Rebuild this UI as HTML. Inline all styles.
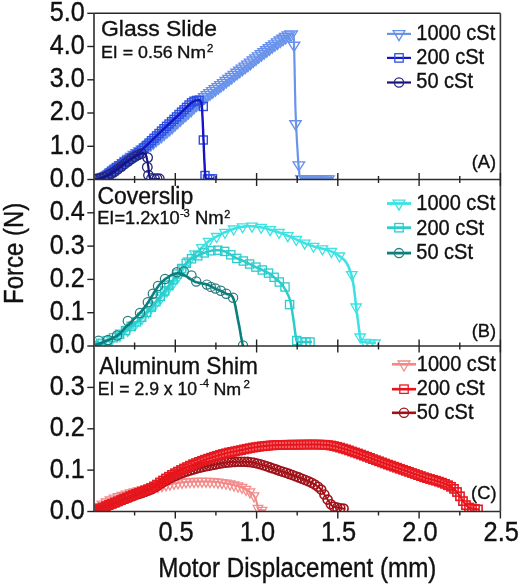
<!DOCTYPE html>
<html><head><meta charset="utf-8"><title>Force vs Motor Displacement</title>
<style>html,body{margin:0;padding:0;background:#fff;}body{width:520px;height:584px;overflow:hidden;}svg{display:block;}</style>
</head><body>
<svg width="520" height="584" viewBox="0 0 520 584">
<defs><clipPath id="cA"><rect x="94" y="13.3" width="406.4" height="166.2"/></clipPath><clipPath id="cB"><rect x="94" y="179.5" width="406.4" height="166.5"/></clipPath><clipPath id="cC"><rect x="94" y="346" width="406.4" height="165.5"/></clipPath></defs>
<rect width="520" height="584" fill="#fff"/>
<g id="curves"><g clip-path="url(#cA)"><g fill="none" stroke="#6690ec" stroke-width="1.35" stroke-linejoin="miter"><path d="M87.8 176.0H100.2L94.0 186.5Z"/><path d="M90.5 175.6H103.0L96.7 186.1Z"/><path d="M93.2 175.1H105.7L99.4 185.6Z"/><path d="M95.8 174.5H108.3L102.1 185.0Z"/><path d="M98.5 173.5H111.0L104.8 184.0Z"/><path d="M101.2 172.2H113.8L107.5 182.7Z"/><path d="M104.0 170.5H116.5L110.2 181.0Z"/><path d="M106.7 168.6H119.2L112.9 179.1Z"/><path d="M109.4 166.4H121.9L115.6 176.9Z"/><path d="M112.0 164.1H124.5L118.3 174.6Z"/><path d="M114.8 161.8H127.2L121.0 172.3Z"/><path d="M117.5 159.6H129.9L123.7 170.1Z"/><path d="M120.2 157.5H132.7L126.4 168.0Z"/><path d="M122.8 155.4H135.3L129.1 165.9Z"/><path d="M125.6 153.3H138.1L131.8 163.8Z"/><path d="M128.2 151.5H140.8L134.5 162.0Z"/><path d="M130.9 149.7H143.4L137.2 160.2Z"/><path d="M133.7 147.9H146.2L139.9 158.4Z"/><path d="M136.3 146.1H148.8L142.6 156.6Z"/><path d="M139.1 144.3H151.6L145.3 154.8Z"/><path d="M141.8 142.5H154.2L148.0 153.0Z"/><path d="M144.5 140.6H157.0L150.7 151.1Z"/><path d="M147.2 138.6H159.7L153.4 149.1Z"/><path d="M149.8 136.5H162.3L156.1 147.0Z"/><path d="M152.6 134.3H165.1L158.8 144.8Z"/><path d="M155.2 132.1H167.8L161.5 142.6Z"/><path d="M158.0 129.9H170.5L164.2 140.4Z"/><path d="M160.7 127.7H173.2L166.9 138.2Z"/><path d="M163.3 125.4H175.8L169.6 135.9Z"/><path d="M166.1 123.1H178.6L172.3 133.6Z"/><path d="M168.8 120.6H181.2L175.0 131.1Z"/><path d="M171.5 118.1H184.0L177.7 128.6Z"/><path d="M174.2 115.6H186.7L180.4 126.1Z"/><path d="M176.8 113.3H189.3L183.1 123.8Z"/><path d="M179.6 110.9H192.1L185.8 121.4Z"/><path d="M182.2 108.5H194.8L188.5 119.0Z"/><path d="M185.0 106.1H197.5L191.2 116.6Z"/><path d="M187.7 103.5H200.2L193.9 114.0Z"/><path d="M190.3 100.9H202.8L196.6 111.4Z"/><path d="M193.1 98.4H205.6L199.3 108.9Z"/><path d="M195.8 96.0H208.2L202.0 106.5Z"/><path d="M198.5 93.7H211.0L204.7 104.2Z"/><path d="M201.2 91.6H213.7L207.4 102.1Z"/><path d="M203.8 89.6H216.3L210.1 100.1Z"/><path d="M206.6 87.6H219.1L212.8 98.1Z"/><path d="M209.2 85.6H221.8L215.5 96.1Z"/><path d="M212.0 83.6H224.5L218.2 94.1Z"/><path d="M214.7 81.6H227.2L220.9 92.1Z"/><path d="M217.4 79.6H229.9L223.6 90.1Z"/><path d="M220.1 77.5H232.6L226.3 88.0Z"/><path d="M222.8 75.4H235.2L229.0 85.9Z"/><path d="M225.5 73.4H238.0L231.7 83.9Z"/><path d="M228.2 71.3H240.7L234.4 81.8Z"/><path d="M230.9 69.2H243.4L237.1 79.7Z"/><path d="M233.6 67.2H246.1L239.8 77.7Z"/><path d="M236.2 65.1H248.8L242.5 75.6Z"/><path d="M239.0 63.1H251.5L245.2 73.6Z"/><path d="M241.7 61.1H254.2L247.9 71.6Z"/><path d="M244.4 59.1H256.9L250.6 69.6Z"/><path d="M247.1 57.0H259.6L253.3 67.5Z"/><path d="M249.8 54.9H262.2L256.0 65.4Z"/><path d="M252.4 52.8H264.9L258.7 63.3Z"/><path d="M255.2 50.7H267.7L261.4 61.2Z"/><path d="M257.9 48.7H270.4L264.1 59.2Z"/><path d="M260.6 46.7H273.1L266.8 57.2Z"/><path d="M263.2 44.7H275.8L269.5 55.2Z"/><path d="M265.9 42.7H278.4L272.2 53.2Z"/><path d="M268.7 40.8H281.2L274.9 51.3Z"/><path d="M271.4 38.9H283.9L277.6 49.4Z"/><path d="M274.1 37.0H286.6L280.3 47.5Z"/><path d="M276.8 35.2H289.2L283.0 45.7Z"/><path d="M279.4 33.4H291.9L285.7 43.9Z"/><path d="M282.2 31.8H294.7L288.4 42.3Z"/><path d="M284.9 30.8H297.4L291.1 41.3Z"/><path d="M288.2 42.2H299.8L294.0 51.4Z"/><path d="M289.8 120.7H301.2L295.5 129.9Z"/><path d="M293.1 161.8H304.6L298.8 171.0Z"/><path d="M295.8 175.7H307.2L301.5 184.9Z"/><path d="M299.2 175.9H310.8L305.0 185.1Z"/><path d="M302.8 175.9H314.2L308.5 185.1Z"/><path d="M306.2 175.9H317.8L312.0 185.1Z"/><path d="M309.8 175.9H321.2L315.5 185.1Z"/><path d="M313.2 175.9H324.8L319.0 185.1Z"/><path d="M316.8 175.9H328.2L322.5 185.1Z"/><path d="M320.2 175.9H331.8L326.0 185.1Z"/><path d="M322.8 175.9H334.2L328.5 185.1Z"/></g><polyline points="94.0,179.5 94.4,179.4 94.8,179.4 95.4,179.3 96.0,179.2 96.6,179.1 97.3,179.0 98.0,178.9 98.7,178.8 99.4,178.6 100.0,178.5 100.6,178.4 101.2,178.2 101.8,178.1 102.4,177.9 102.9,177.7 103.5,177.5 104.1,177.3 104.7,177.1 105.4,176.8 106.0,176.5 106.7,176.2 107.3,175.8 108.0,175.4 108.6,175.0 109.3,174.6 110.0,174.1 110.7,173.6 111.5,173.1 112.2,172.6 113.0,172.0 113.8,171.4 114.7,170.7 115.5,170.0 116.4,169.2 117.3,168.5 118.2,167.7 119.2,166.9 120.1,166.1 121.1,165.3 122.0,164.5 123.0,163.7 123.9,162.9 124.9,162.1 125.9,161.3 126.9,160.6 128.0,159.8 129.0,159.0 130.0,158.2 131.0,157.4 132.0,156.7 133.0,156.0 134.0,155.3 135.0,154.6 136.0,153.9 137.0,153.3 138.0,152.6 139.0,152.0 140.0,151.3 141.0,150.7 142.0,150.0 143.0,149.3 144.0,148.7 145.0,148.0 146.0,147.3 147.1,146.6 148.1,146.0 149.1,145.3 150.1,144.6 151.0,143.9 152.0,143.2 152.9,142.5 153.8,141.8 154.7,141.1 155.6,140.4 156.5,139.7 157.4,139.0 158.3,138.3 159.2,137.5 160.1,136.8 161.0,136.0 162.0,135.2 163.0,134.4 164.0,133.6 165.0,132.8 166.0,131.9 167.0,131.1 168.0,130.2 169.0,129.4 170.0,128.5 171.0,127.7 171.9,126.9 172.8,126.1 173.7,125.3 174.6,124.4 175.5,123.6 176.4,122.8 177.3,122.0 178.2,121.2 179.1,120.3 180.0,119.5 181.0,118.6 182.0,117.7 183.0,116.8 184.1,115.9 185.1,115.0 186.2,114.1 187.2,113.2 188.2,112.3 189.1,111.5 190.0,110.7 190.8,109.9 191.6,109.2 192.3,108.5 193.0,107.9 193.6,107.2 194.3,106.6 194.9,106.0 195.6,105.3 196.3,104.7 197.0,104.0 197.8,103.3 198.5,102.6 199.3,101.9 200.0,101.2 200.8,100.5 201.6,99.9 202.4,99.1 203.3,98.4 204.1,97.7 205.0,97.0 205.9,96.3 206.9,95.5 207.9,94.8 208.9,94.0 209.9,93.3 210.9,92.5 211.9,91.8 213.0,91.0 214.0,90.3 215.0,89.5 216.0,88.8 216.9,88.1 217.8,87.4 218.8,86.7 219.7,86.0 220.6,85.3 221.6,84.5 222.7,83.8 223.8,82.9 225.0,82.0 226.3,81.0 227.7,79.9 229.2,78.8 230.8,77.6 232.4,76.3 234.0,75.1 235.6,73.9 237.1,72.7 238.6,71.6 240.0,70.5 241.3,69.5 242.6,68.6 243.8,67.6 245.0,66.8 246.1,65.9 247.3,65.1 248.4,64.2 249.6,63.3 250.8,62.4 252.0,61.5 253.3,60.5 254.6,59.5 255.9,58.5 257.2,57.5 258.6,56.4 259.9,55.4 261.2,54.4 262.5,53.4 263.8,52.4 265.0,51.5 266.2,50.6 267.4,49.7 268.5,48.9 269.7,48.0 270.8,47.2 271.9,46.4 273.0,45.7 274.0,44.9 275.0,44.2 276.0,43.5 276.9,42.8 277.8,42.2 278.7,41.6 279.6,41.0 280.4,40.4 281.2,39.9 281.9,39.4 282.6,38.9 283.3,38.4 284.0,38.0 284.6,37.6 285.2,37.2 285.8,36.9 286.3,36.5 286.8,36.2 287.3,35.9 287.7,35.7 288.1,35.4 288.6,35.2 289.0,35.0 289.4,34.8 289.8,34.5 290.2,34.2 290.6,33.9 291.0,33.7 291.3,33.5 291.6,33.4 292.0,33.5 292.2,33.6 292.5,34.0 292.7,34.3 292.9,34.4 293.1,34.4 293.2,34.5 293.4,34.8 293.5,35.4 293.6,36.5 293.7,38.2 293.9,40.7 294.0,44.0 294.1,48.4 294.3,54.0 294.4,60.5 294.6,67.6 294.7,75.1 294.9,82.8 295.0,90.3 295.2,97.6 295.3,104.2 295.5,110.0 295.7,115.1 295.9,120.0 296.1,124.5 296.3,128.8 296.5,132.9 296.7,136.7 296.9,140.3 297.1,143.7 297.3,146.9 297.5,150.0 297.7,152.9 297.8,155.5 298.0,157.9 298.1,160.0 298.2,162.0 298.4,163.9 298.5,165.5 298.7,167.1 298.8,168.6 299.0,170.0 299.1,171.3 299.3,172.4 299.3,173.4 299.4,174.2 299.5,175.0 299.7,175.6 299.9,176.2 300.1,176.6 300.5,177.1 301.0,177.5 301.6,177.8 302.1,178.1 302.7,178.2 303.4,178.2 304.2,178.2 305.1,178.2 306.1,178.1 307.2,178.0 308.5,178.0 310.0,178.0 311.8,178.0 314.1,178.0 316.6,178.0 319.3,178.0 322.1,178.0 324.8,178.0 327.3,178.0 329.6,178.0 331.6,178.0 333.0,178.0" fill="none" stroke="#6a93ea" stroke-width="2.2" stroke-linejoin="round"/></g><g clip-path="url(#cA)"><g fill="none" stroke="#2d50e2" stroke-width="1.4" stroke-linejoin="miter"><rect x="90.0" y="175.5" width="8.0" height="8.0"/><rect x="92.5" y="175.1" width="8.0" height="8.0"/><rect x="95.0" y="174.6" width="8.0" height="8.0"/><rect x="97.5" y="173.9" width="8.0" height="8.0"/><rect x="100.0" y="172.9" width="8.0" height="8.0"/><rect x="102.5" y="171.2" width="8.0" height="8.0"/><rect x="105.0" y="169.1" width="8.0" height="8.0"/><rect x="107.5" y="167.1" width="8.0" height="8.0"/><rect x="110.0" y="165.2" width="8.0" height="8.0"/><rect x="112.5" y="163.4" width="8.0" height="8.0"/><rect x="115.0" y="161.7" width="8.0" height="8.0"/><rect x="117.5" y="160.1" width="8.0" height="8.0"/><rect x="120.0" y="158.4" width="8.0" height="8.0"/><rect x="122.5" y="156.8" width="8.0" height="8.0"/><rect x="125.0" y="155.2" width="8.0" height="8.0"/><rect x="127.5" y="153.7" width="8.0" height="8.0"/><rect x="130.0" y="152.1" width="8.0" height="8.0"/><rect x="132.5" y="150.4" width="8.0" height="8.0"/><rect x="135.0" y="148.4" width="8.0" height="8.0"/><rect x="137.5" y="146.2" width="8.0" height="8.0"/><rect x="140.0" y="143.8" width="8.0" height="8.0"/><rect x="142.5" y="141.5" width="8.0" height="8.0"/><rect x="145.0" y="139.1" width="8.0" height="8.0"/><rect x="147.5" y="136.7" width="8.0" height="8.0"/><rect x="150.0" y="134.3" width="8.0" height="8.0"/><rect x="152.5" y="131.9" width="8.0" height="8.0"/><rect x="155.0" y="129.5" width="8.0" height="8.0"/><rect x="157.5" y="127.1" width="8.0" height="8.0"/><rect x="160.0" y="124.7" width="8.0" height="8.0"/><rect x="162.5" y="122.3" width="8.0" height="8.0"/><rect x="165.0" y="120.0" width="8.0" height="8.0"/><rect x="167.5" y="117.6" width="8.0" height="8.0"/><rect x="170.0" y="115.3" width="8.0" height="8.0"/><rect x="172.5" y="112.9" width="8.0" height="8.0"/><rect x="175.0" y="110.5" width="8.0" height="8.0"/><rect x="177.5" y="108.1" width="8.0" height="8.0"/><rect x="180.0" y="105.8" width="8.0" height="8.0"/><rect x="182.5" y="103.4" width="8.0" height="8.0"/><rect x="185.0" y="101.0" width="8.0" height="8.0"/><rect x="187.5" y="98.8" width="8.0" height="8.0"/><rect x="190.0" y="97.2" width="8.0" height="8.0"/><rect x="192.5" y="96.4" width="8.0" height="8.0"/><rect x="195.0" y="96.5" width="8.0" height="8.0"/><rect x="199.3" y="102.5" width="8.0" height="8.0"/><rect x="199.3" y="136.0" width="8.0" height="8.0"/><rect x="201.0" y="171.5" width="8.0" height="8.0"/><rect x="203.5" y="174.8" width="8.0" height="8.0"/><rect x="206.0" y="174.8" width="8.0" height="8.0"/><rect x="208.5" y="174.8" width="8.0" height="8.0"/></g><polyline points="94.0,179.5 94.4,179.4 94.8,179.3 95.4,179.3 96.0,179.1 96.7,179.0 97.4,178.9 98.1,178.8 98.8,178.6 99.4,178.5 100.0,178.3 100.5,178.1 101.0,178.0 101.5,177.8 102.0,177.7 102.5,177.5 103.0,177.3 103.5,177.1 104.0,176.9 104.5,176.6 105.0,176.3 105.6,175.9 106.1,175.5 106.7,175.1 107.3,174.6 107.9,174.1 108.5,173.6 109.1,173.1 109.7,172.5 110.4,172.0 111.0,171.5 111.7,171.0 112.3,170.5 113.0,170.0 113.6,169.5 114.3,169.0 115.0,168.5 115.7,168.0 116.5,167.5 117.2,166.9 118.0,166.4 118.8,165.8 119.7,165.3 120.5,164.7 121.4,164.1 122.3,163.5 123.2,162.9 124.2,162.3 125.1,161.7 126.1,161.1 127.0,160.5 128.0,159.9 128.9,159.3 129.9,158.7 130.9,158.1 131.9,157.4 133.0,156.8 134.0,156.2 135.0,155.5 136.0,154.8 137.0,154.0 138.0,153.2 139.0,152.4 140.0,151.5 141.0,150.6 142.0,149.7 143.0,148.8 144.0,147.8 145.0,146.9 146.0,145.9 147.0,145.0 148.0,144.1 149.0,143.1 150.0,142.1 151.0,141.2 152.1,140.2 153.1,139.2 154.1,138.2 155.1,137.3 156.0,136.3 157.0,135.4 157.9,134.5 158.8,133.6 159.7,132.8 160.6,131.9 161.5,131.1 162.4,130.2 163.3,129.4 164.2,128.6 165.1,127.7 166.0,126.8 167.0,125.9 168.0,125.0 169.0,124.0 170.0,123.1 171.0,122.1 172.0,121.1 173.0,120.2 174.0,119.2 175.0,118.3 176.0,117.4 177.0,116.5 177.9,115.6 178.9,114.7 179.8,113.8 180.8,112.9 181.7,112.0 182.6,111.1 183.4,110.3 184.2,109.5 185.0,108.8 185.7,108.1 186.4,107.4 187.1,106.8 187.7,106.2 188.3,105.6 188.9,105.1 189.4,104.6 190.0,104.1 190.5,103.6 191.0,103.2 191.5,102.8 191.9,102.5 192.4,102.2 192.8,101.9 193.2,101.7 193.6,101.5 193.9,101.3 194.3,101.1 194.6,100.9 195.0,100.8 195.3,100.7 195.7,100.6 196.0,100.5 196.3,100.4 196.6,100.4 196.9,100.3 197.2,100.3 197.4,100.3 197.7,100.3 198.0,100.3 198.3,100.3 198.5,100.3 198.8,100.2 199.1,100.2 199.3,100.2 199.6,100.2 199.8,100.3 200.1,100.4 200.3,100.7 200.5,101.0 200.7,101.3 200.9,101.6 201.0,101.8 201.2,102.1 201.3,102.5 201.4,103.1 201.6,103.9 201.7,104.9 201.9,106.3 202.0,108.0 202.2,110.2 202.3,112.8 202.4,115.8 202.6,119.0 202.8,122.4 202.9,126.0 203.1,129.6 203.2,133.2 203.3,136.7 203.5,140.0 203.7,143.3 203.8,146.8 203.9,150.4 204.1,154.0 204.2,157.6 204.4,161.0 204.6,164.3 204.7,167.2 204.8,169.8 205.0,172.0 205.1,173.7 205.2,175.0 205.3,176.0 205.3,176.7 205.4,177.2 205.5,177.6 205.6,177.8 205.8,178.0 206.1,178.2 206.5,178.5 207.0,178.8 207.7,179.0 208.5,179.1 209.4,179.1 210.3,179.1 211.3,179.0 212.1,178.9 212.9,178.9 213.5,178.8 214.0,178.8" fill="none" stroke="#1414c8" stroke-width="2.4" stroke-linejoin="round"/></g><g clip-path="url(#cA)"><g fill="none" stroke="#262680" stroke-width="1.3" stroke-linejoin="miter"><circle cx="94.0" cy="179.5" r="4.8"/><circle cx="97.4" cy="179.0" r="4.8"/><circle cx="100.8" cy="178.3" r="4.8"/><circle cx="104.2" cy="177.1" r="4.8"/><circle cx="107.6" cy="175.5" r="4.8"/><circle cx="111.0" cy="173.7" r="4.8"/><circle cx="114.4" cy="171.6" r="4.8"/><circle cx="117.8" cy="169.1" r="4.8"/><circle cx="121.2" cy="166.6" r="4.8"/><circle cx="124.6" cy="164.0" r="4.8"/><circle cx="128.0" cy="161.4" r="4.8"/><circle cx="131.4" cy="158.9" r="4.8"/><circle cx="134.8" cy="156.7" r="4.8"/><circle cx="138.2" cy="154.9" r="4.8"/><circle cx="141.6" cy="153.6" r="4.8"/><circle cx="147.6" cy="157.6" r="4.8"/><circle cx="147.3" cy="167.2" r="4.8"/><circle cx="148.5" cy="175.3" r="4.8"/><circle cx="151.5" cy="178.5" r="4.8"/><circle cx="154.5" cy="178.8" r="4.8"/><circle cx="157.0" cy="178.8" r="4.8"/><circle cx="159.3" cy="178.8" r="4.8"/></g><polyline points="94.0,179.5 94.4,179.4 94.8,179.4 95.4,179.3 96.0,179.2 96.6,179.1 97.3,179.0 98.0,178.9 98.7,178.8 99.4,178.7 100.0,178.5 100.6,178.3 101.2,178.2 101.8,178.0 102.4,177.8 102.9,177.6 103.5,177.4 104.1,177.1 104.7,176.9 105.4,176.6 106.0,176.3 106.7,176.0 107.3,175.7 108.0,175.4 108.6,175.0 109.3,174.7 110.0,174.3 110.7,173.9 111.5,173.5 112.2,173.0 113.0,172.5 113.8,172.0 114.7,171.4 115.5,170.8 116.4,170.1 117.3,169.5 118.2,168.8 119.2,168.1 120.1,167.4 121.1,166.7 122.0,166.0 123.0,165.3 124.0,164.5 125.1,163.7 126.1,162.9 127.2,162.1 128.2,161.3 129.3,160.5 130.2,159.8 131.2,159.1 132.0,158.5 132.8,158.0 133.5,157.5 134.1,157.1 134.7,156.7 135.3,156.4 135.9,156.1 136.4,155.8 136.9,155.5 137.5,155.3 138.0,155.0 138.6,154.7 139.1,154.5 139.7,154.2 140.2,154.0 140.7,153.8 141.2,153.6 141.7,153.5 142.2,153.3 142.6,153.2 143.0,153.2 143.4,153.2 143.7,153.2 144.0,153.3 144.2,153.3 144.5,153.5 144.7,153.6 144.9,153.8 145.1,154.0 145.3,154.2 145.5,154.5 145.7,154.8 145.9,155.1 146.0,155.5 146.2,155.9 146.3,156.3 146.4,156.7 146.6,157.2 146.7,157.8 146.9,158.4 147.0,159.0 147.1,159.7 147.3,160.5 147.4,161.3 147.6,162.2 147.7,163.1 147.9,164.1 148.0,165.0 148.2,166.0 148.3,167.0 148.5,168.0 148.6,169.0 148.7,170.2 148.8,171.4 148.9,172.6 149.0,173.8 149.1,175.0 149.3,176.1 149.6,177.0 150.0,177.9 150.5,178.5 151.2,178.9 152.1,179.2 153.1,179.3 154.2,179.4 155.4,179.3 156.5,179.2 157.6,179.1 158.6,178.9 159.4,178.8 160.0,178.8" fill="none" stroke="#141480" stroke-width="2.2" stroke-linejoin="round"/></g><g clip-path="url(#cB)"><g fill="none" stroke="#3ee2e2" stroke-width="1.3" stroke-linejoin="miter"><path d="M88.8 342.5H99.2L94.0 351.5Z"/><path d="M97.7 339.9H108.2L102.9 348.9Z"/><path d="M106.4 336.6H116.9L111.6 345.6Z"/><path d="M114.7 332.4H125.2L119.9 341.4Z"/><path d="M122.5 327.4H133.0L127.7 336.4Z"/><path d="M129.8 321.6H140.3L135.0 330.6Z"/><path d="M136.7 315.4H147.2L142.0 324.4Z"/><path d="M143.3 308.9H153.8L148.6 317.9Z"/><path d="M149.6 302.0H160.1L154.9 311.0Z"/><path d="M155.7 295.0H166.2L160.9 304.0Z"/><path d="M161.7 287.9H172.2L166.9 296.9Z"/><path d="M167.6 280.7H178.1L172.8 289.7Z"/><path d="M173.2 273.3H183.7L178.4 282.3Z"/><path d="M178.4 265.5H188.9L183.6 274.5Z"/><path d="M183.7 257.9H194.2L189.0 266.9Z"/><path d="M189.8 250.9H200.3L195.0 259.9Z"/><path d="M196.6 244.6H207.1L201.8 253.6Z"/><path d="M203.4 238.3H213.9L208.7 247.3Z"/><path d="M211.4 233.5H221.9L216.6 242.5Z"/><path d="M219.7 229.3H230.2L224.9 238.3Z"/><path d="M228.4 226.0H238.9L233.6 235.0Z"/><path d="M237.4 223.8H247.9L242.6 232.8Z"/><path d="M246.7 223.2H257.2L251.9 232.2Z"/><path d="M255.9 224.3H266.4L261.1 233.3Z"/><path d="M264.9 226.6H275.4L270.1 235.6Z"/><path d="M273.7 229.5H284.2L279.0 238.5Z"/><path d="M282.5 232.7H293.0L287.7 241.7Z"/><path d="M291.0 236.5H301.5L296.2 245.5Z"/><path d="M299.5 240.2H310.0L304.7 249.2Z"/><path d="M308.3 243.3H318.8L313.5 252.3Z"/><path d="M317.2 245.8H327.7L322.5 254.8Z"/><path d="M326.1 248.4H336.6L331.4 257.4Z"/><path d="M334.2 253.0H344.7L339.4 262.0Z"/><path d="M346.6 271.7H357.1L351.9 280.7Z"/><path d="M350.9 304.0H361.4L356.2 313.0Z"/><path d="M354.9 334.0H365.4L360.2 343.0Z"/><path d="M359.8 339.5H370.2L365.0 348.5Z"/><path d="M364.8 339.8H375.2L370.0 348.8Z"/><path d="M369.8 340.0H380.2L375.0 349.0Z"/></g><polyline points="94.0,345.5 94.6,345.3 95.4,345.1 96.3,344.9 97.3,344.6 98.4,344.2 99.5,343.9 100.7,343.6 101.8,343.2 103.0,342.9 104.0,342.5 105.0,342.1 106.0,341.8 107.0,341.4 108.0,341.0 109.0,340.7 110.0,340.3 111.0,339.8 112.0,339.4 113.0,339.0 114.0,338.5 115.0,338.0 116.0,337.5 117.0,337.0 118.0,336.5 119.0,336.0 120.0,335.4 121.0,334.8 122.0,334.3 123.0,333.6 124.0,333.0 125.0,332.3 126.0,331.7 127.0,330.9 128.0,330.2 129.0,329.5 130.0,328.7 131.0,327.9 132.0,327.1 133.0,326.3 134.0,325.5 135.0,324.7 136.0,323.8 137.0,323.0 138.0,322.1 139.0,321.2 140.0,320.3 141.0,319.4 142.0,318.4 143.0,317.5 144.0,316.5 145.0,315.5 146.0,314.5 147.0,313.5 148.0,312.4 149.1,311.3 150.1,310.3 151.1,309.2 152.1,308.1 153.0,307.1 154.0,306.0 154.9,304.9 155.9,303.9 156.8,302.8 157.7,301.8 158.6,300.7 159.5,299.6 160.4,298.6 161.3,297.5 162.1,296.5 163.0,295.5 163.8,294.5 164.7,293.6 165.5,292.6 166.3,291.7 167.1,290.8 167.8,289.8 168.6,288.9 169.4,287.9 170.2,287.0 171.0,286.0 171.8,285.0 172.6,284.0 173.4,282.9 174.2,281.9 175.1,280.8 175.9,279.7 176.7,278.7 177.5,277.6 178.2,276.6 179.0,275.5 179.7,274.4 180.5,273.4 181.2,272.3 181.9,271.2 182.6,270.2 183.2,269.1 183.9,268.0 184.6,267.0 185.3,266.0 186.0,265.0 186.7,264.0 187.4,263.1 188.0,262.2 188.7,261.3 189.4,260.4 190.1,259.5 190.8,258.6 191.5,257.7 192.2,256.9 193.0,256.0 193.8,255.1 194.7,254.2 195.6,253.3 196.6,252.4 197.5,251.5 198.5,250.7 199.4,249.8 200.3,249.0 201.1,248.2 201.9,247.5 202.6,246.8 203.2,246.2 203.7,245.7 204.2,245.1 204.7,244.6 205.2,244.1 205.7,243.6 206.3,243.1 206.9,242.6 207.7,242.0 208.6,241.4 209.5,240.8 210.5,240.1 211.5,239.4 212.6,238.8 213.7,238.1 214.9,237.4 216.1,236.8 217.3,236.1 218.5,235.5 219.7,234.9 221.0,234.2 222.3,233.6 223.6,232.9 225.0,232.3 226.4,231.7 227.8,231.1 229.2,230.5 230.6,230.0 232.0,229.5 233.4,229.0 234.9,228.6 236.4,228.2 237.8,227.8 239.4,227.4 240.9,227.1 242.4,226.8 243.9,226.6 245.4,226.4 246.9,226.3 248.4,226.2 249.9,226.2 251.3,226.2 252.8,226.3 254.3,226.4 255.7,226.5 257.3,226.7 258.8,226.9 260.4,227.2 262.0,227.5 263.7,227.9 265.5,228.3 267.4,228.8 269.3,229.4 271.2,229.9 273.1,230.5 274.9,231.1 276.7,231.7 278.4,232.3 280.0,232.8 281.5,233.3 282.8,233.8 284.1,234.3 285.3,234.7 286.5,235.2 287.7,235.7 288.8,236.1 289.8,236.6 290.9,237.0 292.0,237.5 293.1,238.0 294.1,238.4 295.1,238.9 296.0,239.4 297.0,239.8 297.9,240.3 298.8,240.7 299.7,241.2 300.7,241.6 301.6,242.0 302.6,242.4 303.5,242.8 304.5,243.1 305.4,243.5 306.4,243.9 307.3,244.2 308.2,244.5 309.2,244.9 310.1,245.2 311.1,245.5 312.1,245.8 313.0,246.1 314.0,246.4 314.9,246.7 315.9,246.9 316.9,247.2 317.8,247.5 318.8,247.8 319.7,248.0 320.7,248.3 321.7,248.6 322.6,248.8 323.6,249.1 324.6,249.3 325.6,249.5 326.5,249.8 327.5,250.1 328.5,250.3 329.4,250.7 330.3,251.0 331.2,251.4 332.1,251.8 332.9,252.2 333.8,252.6 334.6,253.0 335.5,253.5 336.3,253.9 337.1,254.4 337.9,255.0 338.7,255.5 339.5,256.1 340.3,256.6 341.0,257.2 341.8,257.8 342.5,258.4 343.3,259.1 344.0,259.7 344.6,260.4 345.3,261.2 345.9,262.0 346.5,262.8 347.0,263.7 347.5,264.6 348.0,265.6 348.5,266.6 348.9,267.6 349.3,268.7 349.7,269.8 350.1,270.9 350.5,272.0 350.9,273.1 351.2,274.3 351.5,275.4 351.8,276.6 352.1,277.8 352.4,279.0 352.7,280.3 352.9,281.8 353.2,283.3 353.5,285.0 353.8,286.9 354.1,288.9 354.3,291.1 354.6,293.3 354.9,295.7 355.2,298.1 355.4,300.4 355.7,302.7 355.9,304.9 356.2,307.0 356.4,309.0 356.7,311.0 356.9,312.9 357.2,314.8 357.4,316.6 357.6,318.4 357.9,320.2 358.1,321.8 358.3,323.5 358.5,325.0 358.7,326.5 358.9,327.9 359.0,329.3 359.2,330.6 359.3,331.8 359.5,333.0 359.7,334.1 359.8,335.2 360.0,336.1 360.2,337.0 360.4,337.8 360.5,338.5 360.5,339.1 360.6,339.6 360.7,340.0 360.8,340.4 361.0,340.8 361.4,341.1 361.9,341.4 362.6,341.7 363.6,342.0 364.8,342.2 366.2,342.4 367.8,342.5 369.5,342.6 371.1,342.7 372.6,342.8 374.0,342.9 375.2,342.9 376.0,343.0" fill="none" stroke="#3ee2e2" stroke-width="2.6" stroke-linejoin="round"/></g><g clip-path="url(#cB)"><g fill="none" stroke="#2ccccc" stroke-width="1.3" stroke-linejoin="miter"><rect x="89.9" y="341.4" width="8.2" height="8.2"/><rect x="96.5" y="339.2" width="8.2" height="8.2"/><rect x="103.0" y="336.6" width="8.2" height="8.2"/><rect x="109.4" y="333.7" width="8.2" height="8.2"/><rect x="115.5" y="330.2" width="8.2" height="8.2"/><rect x="121.4" y="326.4" width="8.2" height="8.2"/><rect x="127.0" y="322.2" width="8.2" height="8.2"/><rect x="132.4" y="317.8" width="8.2" height="8.2"/><rect x="137.6" y="313.1" width="8.2" height="8.2"/><rect x="142.5" y="308.2" width="8.2" height="8.2"/><rect x="147.2" y="303.0" width="8.2" height="8.2"/><rect x="151.8" y="297.7" width="8.2" height="8.2"/><rect x="156.2" y="292.3" width="8.2" height="8.2"/><rect x="160.6" y="286.8" width="8.2" height="8.2"/><rect x="164.8" y="281.2" width="8.2" height="8.2"/><rect x="169.0" y="275.6" width="8.2" height="8.2"/><rect x="173.1" y="269.9" width="8.2" height="8.2"/><rect x="177.5" y="264.4" width="8.2" height="8.2"/><rect x="182.1" y="259.2" width="8.2" height="8.2"/><rect x="187.4" y="254.7" width="8.2" height="8.2"/><rect x="193.7" y="251.7" width="8.2" height="8.2"/><rect x="200.1" y="248.8" width="8.2" height="8.2"/><rect x="206.8" y="246.7" width="8.2" height="8.2"/><rect x="213.7" y="246.1" width="8.2" height="8.2"/><rect x="220.6" y="247.3" width="8.2" height="8.2"/><rect x="226.7" y="250.7" width="8.2" height="8.2"/><rect x="232.7" y="254.3" width="8.2" height="8.2"/><rect x="239.2" y="256.9" width="8.2" height="8.2"/><rect x="245.5" y="259.9" width="8.2" height="8.2"/><rect x="251.8" y="263.0" width="8.2" height="8.2"/><rect x="258.2" y="265.9" width="8.2" height="8.2"/><rect x="264.4" y="269.0" width="8.2" height="8.2"/><rect x="270.0" y="273.2" width="8.2" height="8.2"/><rect x="275.2" y="277.9" width="8.2" height="8.2"/><rect x="280.9" y="282.9" width="8.2" height="8.2"/><rect x="285.5" y="300.5" width="8.2" height="8.2"/><rect x="292.7" y="336.4" width="8.2" height="8.2"/><rect x="297.9" y="337.9" width="8.2" height="8.2"/><rect x="301.9" y="337.9" width="8.2" height="8.2"/><rect x="305.9" y="337.9" width="8.2" height="8.2"/></g><polyline points="94.0,345.5 94.6,345.3 95.4,345.0 96.3,344.7 97.3,344.4 98.4,344.0 99.5,343.6 100.7,343.2 101.8,342.8 103.0,342.4 104.0,342.0 105.0,341.6 106.0,341.2 107.0,340.8 108.0,340.3 109.0,339.9 110.0,339.5 111.0,339.0 112.0,338.5 113.0,338.0 114.0,337.5 115.0,337.0 116.0,336.4 117.0,335.9 118.0,335.3 119.0,334.7 120.0,334.1 121.0,333.5 122.0,332.8 123.0,332.2 124.0,331.5 125.0,330.8 126.0,330.1 127.0,329.4 128.0,328.7 129.0,327.9 130.0,327.2 131.0,326.4 132.0,325.6 133.0,324.8 134.0,324.0 135.0,323.2 136.0,322.3 137.0,321.5 138.0,320.6 139.0,319.7 140.0,318.8 141.0,317.9 142.0,317.0 143.0,316.0 144.0,315.0 145.0,314.0 146.0,312.9 147.0,311.8 148.0,310.7 149.1,309.6 150.1,308.5 151.1,307.4 152.1,306.2 153.0,305.1 154.0,304.0 154.9,302.9 155.9,301.8 156.8,300.7 157.7,299.6 158.6,298.5 159.5,297.4 160.4,296.3 161.3,295.2 162.1,294.1 163.0,293.0 163.8,291.9 164.7,290.9 165.5,289.8 166.3,288.7 167.1,287.7 167.9,286.6 168.7,285.6 169.5,284.5 170.2,283.5 171.0,282.5 171.7,281.5 172.5,280.5 173.2,279.5 173.9,278.6 174.6,277.6 175.3,276.6 176.0,275.7 176.6,274.8 177.3,273.9 178.0,273.0 178.7,272.1 179.4,271.3 180.0,270.4 180.7,269.6 181.4,268.8 182.0,267.9 182.7,267.2 183.3,266.4 184.0,265.7 184.6,265.0 185.2,264.3 185.8,263.7 186.4,263.1 186.9,262.5 187.5,262.0 188.0,261.4 188.6,260.9 189.2,260.4 189.8,260.0 190.4,259.5 191.0,259.1 191.7,258.7 192.4,258.3 193.0,258.0 193.7,257.6 194.4,257.3 195.1,257.0 195.8,256.7 196.6,256.3 197.3,256.0 198.1,255.6 198.9,255.3 199.7,254.9 200.5,254.5 201.3,254.2 202.2,253.8 203.0,253.4 203.8,253.1 204.6,252.8 205.4,252.5 206.1,252.2 206.9,252.0 207.6,251.7 208.2,251.5 208.9,251.3 209.6,251.1 210.3,250.9 210.9,250.8 211.6,250.6 212.3,250.5 213.0,250.4 213.7,250.3 214.4,250.3 215.1,250.2 215.8,250.2 216.5,250.2 217.2,250.2 217.9,250.2 218.6,250.3 219.2,250.3 219.8,250.4 220.4,250.4 221.1,250.5 221.7,250.6 222.2,250.7 222.8,250.9 223.4,251.0 223.9,251.2 224.5,251.3 225.0,251.5 225.5,251.7 226.0,251.9 226.4,252.1 226.9,252.3 227.3,252.6 227.7,252.9 228.2,253.1 228.6,253.4 229.1,253.7 229.6,254.0 230.1,254.3 230.7,254.7 231.2,255.1 231.8,255.4 232.4,255.8 232.9,256.2 233.5,256.6 234.2,257.0 234.8,257.4 235.4,257.7 236.0,258.0 236.7,258.3 237.4,258.6 238.1,258.9 238.8,259.1 239.5,259.4 240.2,259.7 240.9,259.9 241.6,260.2 242.3,260.5 243.0,260.8 243.7,261.1 244.4,261.4 245.1,261.8 245.7,262.1 246.4,262.4 247.1,262.8 247.8,263.1 248.5,263.5 249.2,263.8 249.9,264.1 250.6,264.5 251.3,264.9 252.1,265.2 252.8,265.6 253.5,266.0 254.2,266.3 254.9,266.7 255.6,267.0 256.2,267.3 256.8,267.6 257.4,267.8 258.0,268.1 258.5,268.3 259.1,268.6 259.6,268.8 260.1,269.0 260.7,269.3 261.3,269.5 261.9,269.8 262.5,270.1 263.2,270.4 263.9,270.7 264.6,271.1 265.3,271.4 266.1,271.8 266.8,272.2 267.5,272.5 268.1,272.9 268.8,273.3 269.4,273.7 270.0,274.1 270.6,274.5 271.1,274.9 271.7,275.3 272.3,275.8 272.8,276.2 273.4,276.7 274.0,277.2 274.6,277.7 275.3,278.2 275.9,278.8 276.6,279.4 277.4,280.0 278.1,280.6 278.8,281.2 279.5,281.9 280.2,282.6 280.9,283.3 281.5,284.0 282.1,284.8 282.7,285.5 283.3,286.4 283.9,287.2 284.4,288.1 284.9,288.9 285.5,289.8 286.0,290.7 286.4,291.6 286.9,292.5 287.3,293.4 287.7,294.2 288.1,295.0 288.5,295.8 288.8,296.7 289.2,297.5 289.5,298.5 289.8,299.5 290.2,300.7 290.5,302.0 290.8,303.4 291.1,305.0 291.4,306.7 291.7,308.5 292.0,310.3 292.3,312.2 292.6,314.1 292.9,316.1 293.2,318.1 293.5,320.0 293.8,322.0 294.1,324.2 294.4,326.6 294.7,328.9 295.0,331.3 295.3,333.5 295.6,335.7 295.9,337.6 296.2,339.2 296.5,340.5 296.8,341.4 297.0,342.0 297.2,342.4 297.5,342.5 297.7,342.5 298.0,342.4 298.3,342.3 298.7,342.1 299.3,342.0 300.0,342.0 300.9,342.1 302.0,342.1 303.4,342.1 304.8,342.1 306.2,342.1 307.7,342.1 309.0,342.0 310.2,342.0 311.2,342.0 312.0,342.0" fill="none" stroke="#2ccccc" stroke-width="2.5" stroke-linejoin="round"/></g><g clip-path="url(#cB)"><g fill="none" stroke="#2a7a7a" stroke-width="1.2" stroke-linejoin="miter"><circle cx="98.6" cy="340.8" r="4.6"/><circle cx="108.0" cy="340.0" r="4.6"/><circle cx="117.0" cy="335.5" r="4.6"/><circle cx="127.8" cy="321.0" r="4.6"/><circle cx="140.0" cy="313.0" r="4.6"/><circle cx="147.8" cy="302.3" r="4.6"/><circle cx="152.8" cy="293.7" r="4.6"/><circle cx="158.0" cy="286.0" r="4.6"/><circle cx="165.0" cy="279.0" r="4.6"/><circle cx="176.9" cy="272.3" r="4.6"/><circle cx="183.8" cy="271.5" r="4.6"/><circle cx="191.5" cy="275.4" r="4.6"/><circle cx="196.2" cy="281.5" r="4.6"/><circle cx="206.9" cy="284.6" r="4.6"/><circle cx="210.8" cy="286.9" r="4.6"/><circle cx="215.4" cy="288.5" r="4.6"/><circle cx="220.8" cy="290.8" r="4.6"/><circle cx="226.2" cy="293.8" r="4.6"/><circle cx="233.1" cy="297.7" r="4.6"/><circle cx="243.0" cy="345.5" r="4.6"/></g><polyline points="94.0,345.5 94.5,345.3 95.1,345.1 95.8,344.8 96.7,344.5 97.5,344.2 98.5,343.8 99.4,343.5 100.3,343.1 101.2,342.8 102.0,342.5 102.8,342.2 103.5,341.9 104.2,341.7 104.9,341.4 105.6,341.1 106.3,340.8 107.1,340.5 107.8,340.2 108.6,339.9 109.4,339.5 110.3,339.1 111.1,338.7 112.1,338.3 113.0,337.8 114.0,337.4 114.9,336.9 115.9,336.4 116.8,335.8 117.7,335.2 118.6,334.6 119.4,333.9 120.2,333.2 120.9,332.5 121.6,331.7 122.4,330.9 123.1,330.1 123.8,329.2 124.6,328.3 125.4,327.4 126.3,326.5 127.3,325.5 128.3,324.6 129.3,323.5 130.4,322.5 131.6,321.4 132.7,320.3 133.8,319.2 134.9,318.1 136.0,317.1 137.0,316.0 138.0,315.0 138.9,314.0 139.8,313.1 140.6,312.1 141.5,311.2 142.3,310.2 143.2,309.2 144.1,308.0 145.0,306.8 146.0,305.5 147.0,304.0 148.2,302.3 149.3,300.4 150.5,298.5 151.7,296.5 152.9,294.6 154.0,292.7 155.1,290.9 156.1,289.4 157.0,288.0 157.8,286.9 158.5,285.9 159.2,285.0 159.8,284.3 160.3,283.7 160.9,283.1 161.4,282.5 161.9,282.0 162.4,281.5 163.0,281.0 163.6,280.5 164.1,280.0 164.7,279.5 165.2,279.1 165.8,278.7 166.3,278.4 166.9,278.0 167.4,277.7 167.9,277.3 168.4,277.0 168.9,276.7 169.4,276.3 169.8,276.0 170.3,275.7 170.7,275.5 171.2,275.2 171.6,274.9 172.1,274.7 172.5,274.5 173.0,274.3 173.5,274.1 174.0,274.0 174.5,273.8 175.0,273.7 175.5,273.6 176.0,273.5 176.5,273.4 177.0,273.3 177.5,273.3 178.0,273.3 178.5,273.3 179.0,273.4 179.5,273.5 180.0,273.6 180.5,273.7 181.0,273.8 181.5,274.0 182.0,274.1 182.5,274.3 183.0,274.5 183.5,274.7 183.9,274.9 184.3,275.1 184.7,275.3 185.0,275.5 185.5,275.8 185.9,276.0 186.4,276.3 186.9,276.6 187.5,277.0 188.2,277.4 188.9,277.9 189.6,278.4 190.4,278.9 191.2,279.5 192.1,280.1 193.0,280.6 193.9,281.1 194.8,281.6 195.8,282.0 196.8,282.3 197.9,282.6 199.0,282.9 200.2,283.1 201.4,283.3 202.6,283.5 203.8,283.7 204.9,283.9 206.0,284.2 207.0,284.5 207.9,284.8 208.8,285.2 209.7,285.6 210.5,286.1 211.3,286.5 212.1,286.9 212.8,287.4 213.6,287.8 214.3,288.2 215.0,288.5 215.7,288.8 216.3,289.1 217.0,289.4 217.6,289.6 218.2,289.8 218.8,290.1 219.3,290.3 219.9,290.5 220.4,290.7 221.0,291.0 221.5,291.3 222.0,291.5 222.5,291.8 223.0,292.0 223.4,292.3 223.9,292.5 224.4,292.8 224.9,293.1 225.4,293.4 226.0,293.7 226.6,294.0 227.3,294.1 228.0,294.2 228.8,294.3 229.5,294.5 230.2,294.7 231.0,295.1 231.7,295.7 232.4,296.6 233.0,297.7 233.6,299.2 234.1,301.0 234.7,303.0 235.2,305.2 235.7,307.6 236.1,310.1 236.6,312.6 237.1,315.1 237.5,317.6 238.0,320.0 238.5,322.4 239.0,325.1 239.5,327.8 240.0,330.6 240.5,333.3 240.9,335.9 241.4,338.4 241.8,340.6 242.2,342.5 242.5,344.0 242.8,345.1 243.0,345.8 243.2,346.2 243.4,346.3 243.5,346.2 243.7,346.1 243.8,345.9 243.8,345.7 243.9,345.5 244.0,345.5" fill="none" stroke="#0b7e7e" stroke-width="2.6" stroke-linejoin="round"/></g><g clip-path="url(#cC)"><g fill="none" stroke="#f48c8c" stroke-width="1.3" stroke-linejoin="miter"><path d="M89.2 507.8H98.8L94.0 516.8Z"/><path d="M93.2 504.0H102.8L98.0 513.0Z"/><path d="M97.2 501.2H106.8L102.0 510.2Z"/><path d="M101.2 499.0H110.8L106.0 508.0Z"/><path d="M105.2 497.0H114.8L110.0 506.0Z"/><path d="M109.2 495.2H118.8L114.0 504.2Z"/><path d="M113.2 493.7H122.8L118.0 502.7Z"/><path d="M117.2 492.3H126.8L122.0 501.3Z"/><path d="M121.2 491.1H130.8L126.0 500.1Z"/><path d="M125.2 490.0H134.8L130.0 499.0Z"/><path d="M129.2 489.0H138.8L134.0 498.0Z"/><path d="M133.2 488.0H142.8L138.0 497.0Z"/><path d="M137.2 487.0H146.8L142.0 496.0Z"/><path d="M141.2 485.9H150.8L146.0 494.9Z"/><path d="M145.2 485.0H154.8L150.0 494.0Z"/><path d="M149.2 484.1H158.8L154.0 493.1Z"/><path d="M153.2 483.3H162.8L158.0 492.3Z"/><path d="M157.2 482.6H166.8L162.0 491.6Z"/><path d="M161.2 481.8H170.8L166.0 490.8Z"/><path d="M165.2 481.1H174.8L170.0 490.1Z"/><path d="M169.2 480.4H178.8L174.0 489.4Z"/><path d="M173.2 479.8H182.8L178.0 488.8Z"/><path d="M177.2 479.3H186.8L182.0 488.3Z"/><path d="M181.2 478.9H190.8L186.0 487.9Z"/><path d="M185.2 478.7H194.8L190.0 487.7Z"/><path d="M189.2 478.5H198.8L194.0 487.5Z"/><path d="M193.2 478.4H202.8L198.0 487.4Z"/><path d="M197.2 478.4H206.8L202.0 487.4Z"/><path d="M201.2 478.4H210.8L206.0 487.4Z"/><path d="M205.2 478.5H214.8L210.0 487.5Z"/><path d="M209.2 478.7H218.8L214.0 487.7Z"/><path d="M213.2 479.1H222.8L218.0 488.1Z"/><path d="M217.2 479.6H226.8L222.0 488.6Z"/><path d="M221.2 480.2H230.8L226.0 489.2Z"/><path d="M225.2 481.0H234.8L230.0 490.0Z"/><path d="M229.2 482.0H238.8L234.0 491.0Z"/><path d="M233.2 483.0H242.8L238.0 492.0Z"/><path d="M237.2 484.4H246.8L242.0 493.4Z"/><path d="M241.2 486.3H250.8L246.0 495.3Z"/><path d="M245.2 488.8H254.8L250.0 497.8Z"/><path d="M249.2 492.9H258.8L254.0 501.9Z"/><path d="M253.2 505.4H262.8L258.0 514.4Z"/><path d="M257.2 507.3H266.8L262.0 516.3Z"/></g><polyline points="94.0,510.8 94.3,510.5 94.8,510.1 95.2,509.6 95.8,509.1 96.4,508.5 97.0,507.9 97.7,507.3 98.4,506.7 99.2,506.1 100.0,505.5 100.8,505.0 101.7,504.4 102.7,503.8 103.7,503.2 104.8,502.7 105.8,502.1 106.9,501.5 107.9,501.0 109.0,500.5 110.0,500.0 111.0,499.5 112.0,499.1 113.0,498.7 114.0,498.2 115.0,497.8 116.0,497.5 117.0,497.1 118.0,496.7 119.0,496.4 120.0,496.0 121.0,495.7 122.0,495.3 123.0,495.0 124.0,494.7 125.0,494.4 126.0,494.1 127.0,493.8 128.0,493.6 129.0,493.3 130.0,493.0 131.0,492.7 132.0,492.5 133.0,492.2 134.0,492.0 135.0,491.7 136.0,491.5 137.0,491.2 138.0,491.0 139.0,490.7 140.0,490.5 141.0,490.3 141.9,490.0 142.8,489.8 143.8,489.5 144.7,489.3 145.6,489.0 146.6,488.8 147.7,488.5 148.8,488.3 150.0,488.0 151.3,487.7 152.7,487.4 154.1,487.1 155.6,486.8 157.2,486.5 158.8,486.2 160.3,485.9 161.9,485.6 163.5,485.3 165.0,485.0 166.5,484.7 168.0,484.4 169.5,484.2 171.0,483.9 172.5,483.6 174.0,483.4 175.5,483.1 177.0,482.9 178.5,482.7 180.0,482.5 181.5,482.3 183.0,482.2 184.5,482.1 186.0,481.9 187.5,481.8 189.0,481.8 190.5,481.7 192.0,481.6 193.5,481.6 195.0,481.5 196.5,481.5 198.1,481.4 199.7,481.4 201.2,481.4 202.8,481.4 204.4,481.4 205.9,481.4 207.3,481.4 208.7,481.5 210.0,481.5 211.2,481.5 212.3,481.6 213.4,481.7 214.4,481.7 215.3,481.8 216.2,481.9 217.2,482.0 218.1,482.1 219.0,482.2 220.0,482.3 221.0,482.4 222.0,482.6 223.0,482.7 224.0,482.9 224.9,483.0 225.9,483.2 226.9,483.4 227.9,483.6 229.0,483.8 230.0,484.0 231.1,484.2 232.2,484.5 233.4,484.8 234.5,485.1 235.7,485.4 236.8,485.7 238.0,486.0 239.0,486.3 240.1,486.7 241.0,487.0 241.9,487.3 242.7,487.7 243.5,488.0 244.2,488.3 244.9,488.7 245.5,489.0 246.2,489.4 246.8,489.8 247.4,490.1 248.0,490.5 248.6,490.9 249.2,491.2 249.7,491.6 250.2,492.0 250.8,492.4 251.2,492.8 251.7,493.2 252.2,493.6 252.6,494.0 253.0,494.5 253.4,495.0 253.8,495.5 254.1,496.0 254.4,496.6 254.7,497.1 255.0,497.7 255.3,498.3 255.5,498.8 255.8,499.4 256.0,500.0 256.2,500.6 256.4,501.2 256.6,501.8 256.7,502.5 256.8,503.1 257.0,503.7 257.1,504.3 257.2,504.9 257.4,505.5 257.5,506.0 257.6,506.5 257.7,507.0 257.8,507.4 257.9,507.8 258.0,508.2 258.1,508.6 258.2,509.0 258.4,509.3 258.7,509.6 259.0,509.8 259.4,510.0 260.0,510.1 260.7,510.2 261.4,510.3 262.1,510.3 262.8,510.3 263.5,510.3 264.1,510.3 264.6,510.3 265.0,510.3" fill="none" stroke="#f38686" stroke-width="2" stroke-linejoin="round"/></g><g clip-path="url(#cC)"><g fill="none" stroke="#a0121a" stroke-width="1.6" stroke-linejoin="miter"><circle cx="94.0" cy="510.8" r="4.5"/><circle cx="97.2" cy="509.6" r="4.5"/><circle cx="100.4" cy="508.4" r="4.5"/><circle cx="103.6" cy="507.2" r="4.5"/><circle cx="106.8" cy="506.0" r="4.5"/><circle cx="110.0" cy="504.9" r="4.5"/><circle cx="113.2" cy="503.7" r="4.5"/><circle cx="116.4" cy="502.5" r="4.5"/><circle cx="119.6" cy="501.2" r="4.5"/><circle cx="122.8" cy="500.0" r="4.5"/><circle cx="126.0" cy="498.7" r="4.5"/><circle cx="129.2" cy="497.5" r="4.5"/><circle cx="132.4" cy="496.2" r="4.5"/><circle cx="135.6" cy="495.1" r="4.5"/><circle cx="138.8" cy="493.9" r="4.5"/><circle cx="142.0" cy="492.9" r="4.5"/><circle cx="145.2" cy="491.7" r="4.5"/><circle cx="148.4" cy="490.5" r="4.5"/><circle cx="151.6" cy="489.2" r="4.5"/><circle cx="154.8" cy="487.5" r="4.5"/><circle cx="158.0" cy="485.6" r="4.5"/><circle cx="161.2" cy="483.5" r="4.5"/><circle cx="164.4" cy="481.4" r="4.5"/><circle cx="167.6" cy="479.7" r="4.5"/><circle cx="170.8" cy="478.0" r="4.5"/><circle cx="174.0" cy="476.5" r="4.5"/><circle cx="177.2" cy="475.1" r="4.5"/><circle cx="180.4" cy="473.8" r="4.5"/><circle cx="183.6" cy="472.6" r="4.5"/><circle cx="186.8" cy="471.5" r="4.5"/><circle cx="190.0" cy="470.5" r="4.5"/><circle cx="193.2" cy="469.5" r="4.5"/><circle cx="196.4" cy="468.6" r="4.5"/><circle cx="199.6" cy="467.8" r="4.5"/><circle cx="202.8" cy="467.0" r="4.5"/><circle cx="206.0" cy="466.3" r="4.5"/><circle cx="209.2" cy="465.7" r="4.5"/><circle cx="212.4" cy="465.0" r="4.5"/><circle cx="215.6" cy="464.4" r="4.5"/><circle cx="218.8" cy="463.8" r="4.5"/><circle cx="222.0" cy="463.2" r="4.5"/><circle cx="225.2" cy="462.8" r="4.5"/><circle cx="228.4" cy="462.4" r="4.5"/><circle cx="231.6" cy="462.1" r="4.5"/><circle cx="234.8" cy="461.9" r="4.5"/><circle cx="238.0" cy="461.8" r="4.5"/><circle cx="241.2" cy="461.7" r="4.5"/><circle cx="244.4" cy="461.7" r="4.5"/><circle cx="247.6" cy="461.9" r="4.5"/><circle cx="250.8" cy="462.2" r="4.5"/><circle cx="254.0" cy="462.7" r="4.5"/><circle cx="257.2" cy="463.5" r="4.5"/><circle cx="260.4" cy="464.3" r="4.5"/><circle cx="263.6" cy="465.3" r="4.5"/><circle cx="266.8" cy="466.3" r="4.5"/><circle cx="270.0" cy="467.4" r="4.5"/><circle cx="273.2" cy="468.5" r="4.5"/><circle cx="276.4" cy="469.6" r="4.5"/><circle cx="279.6" cy="470.7" r="4.5"/><circle cx="282.8" cy="471.7" r="4.5"/><circle cx="286.0" cy="472.8" r="4.5"/><circle cx="289.2" cy="473.9" r="4.5"/><circle cx="292.4" cy="475.0" r="4.5"/><circle cx="295.6" cy="476.2" r="4.5"/><circle cx="298.8" cy="477.4" r="4.5"/><circle cx="302.0" cy="478.7" r="4.5"/><circle cx="305.2" cy="480.0" r="4.5"/><circle cx="308.4" cy="481.3" r="4.5"/><circle cx="311.6" cy="482.8" r="4.5"/><circle cx="314.8" cy="484.5" r="4.5"/><circle cx="318.0" cy="486.7" r="4.5"/><circle cx="321.2" cy="489.6" r="4.5"/><circle cx="324.4" cy="494.5" r="4.5"/><circle cx="327.6" cy="499.6" r="4.5"/><circle cx="330.8" cy="504.3" r="4.5"/><circle cx="334.0" cy="506.8" r="4.5"/><circle cx="337.2" cy="507.5" r="4.5"/><circle cx="340.4" cy="508.2" r="4.5"/><circle cx="343.6" cy="508.6" r="4.5"/></g><polyline points="94.0,510.8 94.3,510.7 94.7,510.5 95.1,510.4 95.5,510.2 96.1,510.0 96.7,509.8 97.3,509.5 98.1,509.2 99.0,508.9 100.0,508.5 101.1,508.1 102.4,507.6 103.7,507.1 105.2,506.6 106.8,506.0 108.4,505.5 110.0,504.9 111.7,504.2 113.3,503.6 115.0,503.0 116.7,502.4 118.4,501.7 120.1,501.0 121.9,500.3 123.8,499.6 125.6,498.9 127.4,498.1 129.3,497.4 131.1,496.7 133.0,496.0 134.9,495.3 136.8,494.6 138.8,493.9 140.8,493.3 142.8,492.6 144.7,491.9 146.6,491.2 148.5,490.5 150.3,489.8 152.0,489.0 153.6,488.2 155.1,487.4 156.6,486.5 158.0,485.6 159.3,484.7 160.6,483.8 162.0,483.0 163.3,482.1 164.6,481.3 166.0,480.5 167.4,479.8 168.8,479.0 170.2,478.4 171.6,477.7 172.9,477.0 174.3,476.4 175.7,475.8 177.1,475.2 178.6,474.6 180.0,474.0 181.5,473.4 182.9,472.9 184.4,472.3 185.9,471.8 187.4,471.3 189.0,470.8 190.5,470.3 192.0,469.9 193.5,469.4 195.0,469.0 196.5,468.6 198.0,468.2 199.5,467.8 201.0,467.5 202.5,467.1 204.0,466.8 205.5,466.4 207.0,466.1 208.5,465.8 210.0,465.5 211.5,465.2 213.0,464.9 214.6,464.6 216.1,464.3 217.6,464.0 219.2,463.7 220.7,463.5 222.1,463.2 223.6,463.0 225.0,462.8 226.4,462.6 227.7,462.5 229.0,462.3 230.3,462.2 231.6,462.1 232.8,462.0 234.1,462.0 235.3,461.9 236.5,461.8 237.7,461.8 238.9,461.8 240.1,461.7 241.2,461.7 242.3,461.7 243.5,461.7 244.6,461.7 245.7,461.8 246.8,461.8 247.9,461.9 249.0,462.0 250.1,462.1 251.1,462.3 252.1,462.4 253.1,462.6 254.1,462.8 255.2,463.0 256.3,463.2 257.4,463.5 258.7,463.8 260.0,464.2 261.5,464.6 263.0,465.1 264.6,465.6 266.3,466.2 268.1,466.7 269.8,467.4 271.6,468.0 273.4,468.6 275.2,469.2 277.0,469.8 278.8,470.4 280.6,471.0 282.4,471.6 284.2,472.2 286.0,472.8 287.8,473.4 289.6,474.1 291.4,474.7 293.2,475.3 295.0,476.0 296.8,476.7 298.6,477.4 300.4,478.1 302.3,478.8 304.1,479.5 305.9,480.2 307.5,480.9 309.2,481.7 310.6,482.3 312.0,483.0 313.2,483.6 314.3,484.2 315.3,484.8 316.2,485.4 317.0,486.0 317.8,486.5 318.5,487.1 319.2,487.7 319.9,488.3 320.6,489.0 321.3,489.7 321.9,490.5 322.4,491.3 323.0,492.1 323.5,492.9 323.9,493.7 324.4,494.5 324.8,495.3 325.3,496.0 325.7,496.7 326.1,497.3 326.5,497.9 326.9,498.5 327.2,499.0 327.6,499.5 327.9,500.0 328.2,500.5 328.5,501.0 328.9,501.4 329.2,501.9 329.5,502.4 329.8,502.9 330.1,503.3 330.4,503.8 330.7,504.3 331.1,504.7 331.4,505.1 331.8,505.5 332.2,505.9 332.7,506.2 333.3,506.5 333.9,506.7 334.6,507.0 335.3,507.1 336.0,507.3 336.8,507.5 337.5,507.6 338.3,507.7 339.0,507.9 339.6,508.0 340.2,508.1 340.8,508.2 341.4,508.3 342.1,508.4 342.6,508.5 343.2,508.6 343.7,508.7 344.1,508.7 344.5,508.8 344.8,508.8" fill="none" stroke="#a50f16" stroke-width="2" stroke-linejoin="round"/></g><g clip-path="url(#cC)"><g fill="none" stroke="#e8181e" stroke-width="1.6" stroke-linejoin="miter"><rect x="89.9" y="506.7" width="8.2" height="8.2"/><rect x="92.9" y="505.6" width="8.2" height="8.2"/><rect x="95.9" y="504.4" width="8.2" height="8.2"/><rect x="98.9" y="503.2" width="8.2" height="8.2"/><rect x="101.9" y="502.0" width="8.2" height="8.2"/><rect x="104.9" y="500.8" width="8.2" height="8.2"/><rect x="107.9" y="499.6" width="8.2" height="8.2"/><rect x="110.9" y="498.4" width="8.2" height="8.2"/><rect x="113.9" y="497.2" width="8.2" height="8.2"/><rect x="116.9" y="495.9" width="8.2" height="8.2"/><rect x="119.9" y="494.6" width="8.2" height="8.2"/><rect x="122.9" y="493.4" width="8.2" height="8.2"/><rect x="125.9" y="492.1" width="8.2" height="8.2"/><rect x="128.9" y="490.9" width="8.2" height="8.2"/><rect x="131.9" y="489.7" width="8.2" height="8.2"/><rect x="134.9" y="488.6" width="8.2" height="8.2"/><rect x="137.9" y="487.5" width="8.2" height="8.2"/><rect x="140.9" y="486.4" width="8.2" height="8.2"/><rect x="143.9" y="485.2" width="8.2" height="8.2"/><rect x="146.9" y="483.9" width="8.2" height="8.2"/><rect x="149.9" y="482.3" width="8.2" height="8.2"/><rect x="152.9" y="480.5" width="8.2" height="8.2"/><rect x="155.9" y="478.4" width="8.2" height="8.2"/><rect x="158.9" y="476.4" width="8.2" height="8.2"/><rect x="161.9" y="474.4" width="8.2" height="8.2"/><rect x="164.9" y="472.6" width="8.2" height="8.2"/><rect x="167.9" y="470.8" width="8.2" height="8.2"/><rect x="170.9" y="469.1" width="8.2" height="8.2"/><rect x="173.9" y="467.5" width="8.2" height="8.2"/><rect x="176.9" y="465.9" width="8.2" height="8.2"/><rect x="179.9" y="464.4" width="8.2" height="8.2"/><rect x="182.9" y="463.0" width="8.2" height="8.2"/><rect x="185.9" y="461.6" width="8.2" height="8.2"/><rect x="188.9" y="460.2" width="8.2" height="8.2"/><rect x="191.9" y="459.0" width="8.2" height="8.2"/><rect x="194.9" y="457.8" width="8.2" height="8.2"/><rect x="197.9" y="456.7" width="8.2" height="8.2"/><rect x="200.9" y="455.6" width="8.2" height="8.2"/><rect x="203.9" y="454.6" width="8.2" height="8.2"/><rect x="206.9" y="453.6" width="8.2" height="8.2"/><rect x="209.9" y="452.6" width="8.2" height="8.2"/><rect x="212.9" y="451.7" width="8.2" height="8.2"/><rect x="215.9" y="450.8" width="8.2" height="8.2"/><rect x="218.9" y="449.9" width="8.2" height="8.2"/><rect x="221.9" y="449.2" width="8.2" height="8.2"/><rect x="224.9" y="448.4" width="8.2" height="8.2"/><rect x="227.9" y="447.8" width="8.2" height="8.2"/><rect x="230.9" y="447.2" width="8.2" height="8.2"/><rect x="233.9" y="446.6" width="8.2" height="8.2"/><rect x="236.9" y="446.0" width="8.2" height="8.2"/><rect x="239.9" y="445.3" width="8.2" height="8.2"/><rect x="242.9" y="444.7" width="8.2" height="8.2"/><rect x="245.9" y="444.1" width="8.2" height="8.2"/><rect x="248.9" y="443.5" width="8.2" height="8.2"/><rect x="251.9" y="443.1" width="8.2" height="8.2"/><rect x="254.9" y="442.6" width="8.2" height="8.2"/><rect x="257.9" y="442.2" width="8.2" height="8.2"/><rect x="260.9" y="441.9" width="8.2" height="8.2"/><rect x="263.9" y="441.6" width="8.2" height="8.2"/><rect x="266.9" y="441.3" width="8.2" height="8.2"/><rect x="269.9" y="441.1" width="8.2" height="8.2"/><rect x="272.9" y="441.0" width="8.2" height="8.2"/><rect x="275.9" y="440.9" width="8.2" height="8.2"/><rect x="278.9" y="440.8" width="8.2" height="8.2"/><rect x="281.9" y="440.7" width="8.2" height="8.2"/><rect x="284.9" y="440.7" width="8.2" height="8.2"/><rect x="287.9" y="440.6" width="8.2" height="8.2"/><rect x="290.9" y="440.6" width="8.2" height="8.2"/><rect x="293.9" y="440.6" width="8.2" height="8.2"/><rect x="296.9" y="440.5" width="8.2" height="8.2"/><rect x="299.9" y="440.5" width="8.2" height="8.2"/><rect x="302.9" y="440.5" width="8.2" height="8.2"/><rect x="305.9" y="440.4" width="8.2" height="8.2"/><rect x="308.9" y="440.4" width="8.2" height="8.2"/><rect x="311.9" y="440.5" width="8.2" height="8.2"/><rect x="314.9" y="440.5" width="8.2" height="8.2"/><rect x="317.9" y="440.6" width="8.2" height="8.2"/><rect x="320.9" y="440.7" width="8.2" height="8.2"/><rect x="323.9" y="441.0" width="8.2" height="8.2"/><rect x="326.9" y="441.4" width="8.2" height="8.2"/><rect x="329.9" y="442.0" width="8.2" height="8.2"/><rect x="332.9" y="442.7" width="8.2" height="8.2"/><rect x="335.9" y="443.5" width="8.2" height="8.2"/><rect x="338.9" y="444.4" width="8.2" height="8.2"/><rect x="341.9" y="445.3" width="8.2" height="8.2"/><rect x="344.9" y="446.3" width="8.2" height="8.2"/><rect x="347.9" y="447.4" width="8.2" height="8.2"/><rect x="350.9" y="448.4" width="8.2" height="8.2"/><rect x="353.9" y="449.4" width="8.2" height="8.2"/><rect x="356.9" y="450.5" width="8.2" height="8.2"/><rect x="359.9" y="451.6" width="8.2" height="8.2"/><rect x="362.9" y="452.7" width="8.2" height="8.2"/><rect x="365.9" y="453.8" width="8.2" height="8.2"/><rect x="368.9" y="455.0" width="8.2" height="8.2"/><rect x="371.9" y="456.1" width="8.2" height="8.2"/><rect x="374.9" y="457.2" width="8.2" height="8.2"/><rect x="377.9" y="458.3" width="8.2" height="8.2"/><rect x="380.9" y="459.4" width="8.2" height="8.2"/><rect x="383.9" y="460.5" width="8.2" height="8.2"/><rect x="386.9" y="461.5" width="8.2" height="8.2"/><rect x="389.9" y="462.6" width="8.2" height="8.2"/><rect x="392.9" y="463.6" width="8.2" height="8.2"/><rect x="395.9" y="464.7" width="8.2" height="8.2"/><rect x="398.9" y="465.7" width="8.2" height="8.2"/><rect x="401.9" y="466.8" width="8.2" height="8.2"/><rect x="404.9" y="467.8" width="8.2" height="8.2"/><rect x="407.9" y="468.9" width="8.2" height="8.2"/><rect x="410.9" y="469.9" width="8.2" height="8.2"/><rect x="413.9" y="471.0" width="8.2" height="8.2"/><rect x="416.9" y="472.0" width="8.2" height="8.2"/><rect x="419.9" y="473.1" width="8.2" height="8.2"/><rect x="422.9" y="474.0" width="8.2" height="8.2"/><rect x="425.9" y="474.9" width="8.2" height="8.2"/><rect x="428.9" y="475.8" width="8.2" height="8.2"/><rect x="431.9" y="476.6" width="8.2" height="8.2"/><rect x="434.9" y="477.6" width="8.2" height="8.2"/><rect x="437.9" y="478.6" width="8.2" height="8.2"/><rect x="440.9" y="479.8" width="8.2" height="8.2"/><rect x="443.9" y="481.1" width="8.2" height="8.2"/><rect x="446.9" y="482.7" width="8.2" height="8.2"/><rect x="449.9" y="484.8" width="8.2" height="8.2"/><rect x="452.9" y="487.9" width="8.2" height="8.2"/><rect x="455.9" y="492.2" width="8.2" height="8.2"/><rect x="458.9" y="497.0" width="8.2" height="8.2"/><rect x="461.9" y="501.0" width="8.2" height="8.2"/><rect x="464.9" y="503.4" width="8.2" height="8.2"/><rect x="467.9" y="504.4" width="8.2" height="8.2"/><rect x="470.9" y="504.9" width="8.2" height="8.2"/><rect x="473.9" y="505.3" width="8.2" height="8.2"/></g><polyline points="94.0,510.8 94.3,510.7 94.7,510.5 95.1,510.4 95.5,510.2 96.1,510.0 96.7,509.8 97.3,509.5 98.1,509.2 99.0,508.9 100.0,508.5 101.1,508.1 102.4,507.6 103.7,507.0 105.2,506.4 106.8,505.8 108.4,505.2 110.0,504.5 111.7,503.9 113.3,503.2 115.0,502.5 116.7,501.8 118.4,501.1 120.1,500.4 121.9,499.6 123.8,498.8 125.6,498.1 127.4,497.3 129.3,496.5 131.1,495.8 133.0,495.0 134.9,494.3 136.8,493.5 138.8,492.8 140.8,492.1 142.8,491.3 144.7,490.6 146.6,489.9 148.5,489.1 150.3,488.3 152.0,487.5 153.6,486.7 155.1,485.8 156.6,484.9 158.0,484.0 159.3,483.0 160.6,482.1 162.0,481.2 163.3,480.3 164.6,479.4 166.0,478.5 167.4,477.7 168.8,476.8 170.2,476.0 171.6,475.2 172.9,474.4 174.3,473.6 175.7,472.8 177.1,472.0 178.6,471.3 180.0,470.5 181.5,469.8 182.9,469.0 184.4,468.3 185.9,467.6 187.4,466.8 189.0,466.1 190.5,465.5 192.0,464.8 193.5,464.1 195.0,463.5 196.5,462.9 198.0,462.3 199.5,461.7 201.0,461.1 202.5,460.6 204.0,460.1 205.5,459.5 207.0,459.0 208.5,458.5 210.0,458.0 211.5,457.5 213.0,457.0 214.5,456.5 216.0,456.1 217.5,455.6 219.0,455.2 220.5,454.7 222.0,454.3 223.5,453.9 225.0,453.5 226.5,453.1 228.0,452.8 229.5,452.4 231.0,452.1 232.5,451.8 234.0,451.5 235.5,451.2 237.0,450.9 238.5,450.6 240.0,450.3 241.5,450.0 243.0,449.7 244.4,449.4 245.9,449.0 247.3,448.7 248.8,448.4 250.3,448.1 251.8,447.8 253.4,447.6 255.0,447.3 256.7,447.1 258.3,446.8 260.1,446.6 261.8,446.4 263.6,446.1 265.4,446.0 267.2,445.8 269.1,445.6 271.0,445.4 273.0,445.3 275.0,445.2 277.1,445.1 279.2,445.0 281.4,444.9 283.6,444.9 285.9,444.8 288.1,444.8 290.4,444.8 292.7,444.7 295.0,444.7 297.4,444.7 299.9,444.6 302.4,444.6 305.0,444.6 307.6,444.6 310.2,444.5 312.6,444.5 314.9,444.5 317.1,444.6 319.0,444.6 320.7,444.6 322.2,444.7 323.5,444.7 324.7,444.8 325.8,444.9 326.8,444.9 327.8,445.0 328.8,445.2 329.9,445.3 331.0,445.5 332.2,445.7 333.4,445.9 334.6,446.2 335.8,446.5 337.0,446.8 338.2,447.1 339.4,447.5 340.6,447.8 341.8,448.2 343.0,448.5 344.2,448.9 345.4,449.2 346.6,449.6 347.8,450.0 349.0,450.4 350.2,450.8 351.4,451.2 352.6,451.7 353.8,452.1 355.0,452.5 356.2,452.9 357.3,453.3 358.5,453.7 359.6,454.1 360.8,454.5 361.9,454.9 363.1,455.4 364.3,455.8 365.6,456.3 367.0,456.8 368.4,457.3 369.8,457.9 371.3,458.4 372.8,459.0 374.4,459.6 376.0,460.2 377.6,460.8 379.4,461.5 381.1,462.1 383.0,462.8 385.0,463.5 387.0,464.2 389.2,465.0 391.5,465.8 393.8,466.6 396.1,467.4 398.4,468.2 400.6,469.0 402.9,469.8 405.0,470.5 407.1,471.2 409.2,472.0 411.3,472.7 413.4,473.5 415.4,474.2 417.5,474.9 419.4,475.6 421.4,476.3 423.2,476.9 425.0,477.5 426.7,478.1 428.4,478.6 430.0,479.0 431.6,479.5 433.1,479.9 434.6,480.3 436.0,480.8 437.4,481.2 438.7,481.6 440.0,482.0 441.2,482.4 442.4,482.9 443.5,483.3 444.6,483.7 445.6,484.1 446.5,484.5 447.5,484.9 448.3,485.3 449.2,485.8 450.0,486.2 450.8,486.6 451.5,487.1 452.1,487.5 452.7,487.9 453.3,488.3 453.9,488.8 454.4,489.2 454.9,489.7 455.5,490.2 456.0,490.8 456.5,491.4 457.1,492.1 457.6,492.7 458.1,493.5 458.6,494.2 459.1,494.9 459.6,495.7 460.1,496.4 460.5,497.1 461.0,497.8 461.4,498.5 461.8,499.1 462.2,499.8 462.6,500.4 463.0,501.1 463.4,501.7 463.8,502.3 464.2,502.9 464.6,503.5 465.0,504.0 465.4,504.5 465.9,505.0 466.3,505.4 466.7,505.9 467.2,506.3 467.7,506.7 468.2,507.1 468.7,507.4 469.3,507.7 470.0,508.0 470.8,508.3 471.7,508.5 472.7,508.7 473.7,508.9 474.8,509.0 475.9,509.1 476.8,509.2 477.7,509.3 478.4,509.4 479.0,509.5" fill="none" stroke="#e8141c" stroke-width="2" stroke-linejoin="round"/></g></g>
<g id="axes" fill="none"><path d="M94.0 13.3H500.4" stroke="#262626" stroke-width="1.5"/>
<path d="M94.0 179.5H500.4" stroke="#2e2e2e" stroke-width="1.6"/>
<path d="M94.0 346.0H500.4" stroke="#2e2e2e" stroke-width="1.6"/>
<path d="M94.0 511.5H500.4" stroke="#2e2e2e" stroke-width="1.6"/>
<path d="M94.0 13.3V511.5" stroke="#444" stroke-width="1.8"/>
<path d="M500.4 13.3V511.5" stroke="#3a3a3a" stroke-width="1.6"/>
<path d="M134.6 176.0V183.0" stroke="#222" stroke-width="1.4"/>
<path d="M134.6 342.5V349.5" stroke="#222" stroke-width="1.4"/>
<path d="M134.6 511.5V515.5" stroke="#222" stroke-width="1.4"/>
<path d="M175.3 173.0V186.0" stroke="#222" stroke-width="1.4"/>
<path d="M175.3 339.5V352.5" stroke="#222" stroke-width="1.4"/>
<path d="M175.3 511.5V518.5" stroke="#222" stroke-width="1.4"/>
<path d="M215.9 176.0V183.0" stroke="#222" stroke-width="1.4"/>
<path d="M215.9 342.5V349.5" stroke="#222" stroke-width="1.4"/>
<path d="M215.9 511.5V515.5" stroke="#222" stroke-width="1.4"/>
<path d="M256.6 173.0V186.0" stroke="#222" stroke-width="1.4"/>
<path d="M256.6 339.5V352.5" stroke="#222" stroke-width="1.4"/>
<path d="M256.6 511.5V518.5" stroke="#222" stroke-width="1.4"/>
<path d="M297.2 176.0V183.0" stroke="#222" stroke-width="1.4"/>
<path d="M297.2 342.5V349.5" stroke="#222" stroke-width="1.4"/>
<path d="M297.2 511.5V515.5" stroke="#222" stroke-width="1.4"/>
<path d="M337.8 173.0V186.0" stroke="#222" stroke-width="1.4"/>
<path d="M337.8 339.5V352.5" stroke="#222" stroke-width="1.4"/>
<path d="M337.8 511.5V518.5" stroke="#222" stroke-width="1.4"/>
<path d="M378.5 176.0V183.0" stroke="#222" stroke-width="1.4"/>
<path d="M378.5 342.5V349.5" stroke="#222" stroke-width="1.4"/>
<path d="M378.5 511.5V515.5" stroke="#222" stroke-width="1.4"/>
<path d="M419.1 173.0V186.0" stroke="#222" stroke-width="1.4"/>
<path d="M419.1 339.5V352.5" stroke="#222" stroke-width="1.4"/>
<path d="M419.1 511.5V518.5" stroke="#222" stroke-width="1.4"/>
<path d="M459.8 176.0V183.0" stroke="#222" stroke-width="1.4"/>
<path d="M459.8 342.5V349.5" stroke="#222" stroke-width="1.4"/>
<path d="M459.8 511.5V515.5" stroke="#222" stroke-width="1.4"/>
<path d="M500.4 173.0V186.0" stroke="#222" stroke-width="1.4"/>
<path d="M500.4 339.5V352.5" stroke="#222" stroke-width="1.4"/>
<path d="M500.4 511.5V518.5" stroke="#222" stroke-width="1.4"/>
<path d="M87.3 13.3H94.0" stroke="#222" stroke-width="1.4"/>
<path d="M87.3 46.5H94.0" stroke="#222" stroke-width="1.4"/>
<path d="M87.3 79.8H94.0" stroke="#222" stroke-width="1.4"/>
<path d="M87.3 113.0H94.0" stroke="#222" stroke-width="1.4"/>
<path d="M87.3 146.3H94.0" stroke="#222" stroke-width="1.4"/>
<path d="M87.3 179.5H94.0" stroke="#222" stroke-width="1.4"/>
<path d="M87.3 212.8H94.0" stroke="#222" stroke-width="1.4"/>
<path d="M87.3 246.1H94.0" stroke="#222" stroke-width="1.4"/>
<path d="M87.3 279.4H94.0" stroke="#222" stroke-width="1.4"/>
<path d="M87.3 312.7H94.0" stroke="#222" stroke-width="1.4"/>
<path d="M87.3 346.0H94.0" stroke="#222" stroke-width="1.4"/>
<path d="M87.3 387.4H94.0" stroke="#222" stroke-width="1.4"/>
<path d="M87.3 428.8H94.0" stroke="#222" stroke-width="1.4"/>
<path d="M87.3 470.1H94.0" stroke="#222" stroke-width="1.4"/>
<path d="M87.3 511.5H94.0" stroke="#222" stroke-width="1.4"/></g>
<g font-family="Liberation Sans, Arial, sans-serif" fill="#111" stroke="#111" stroke-width="0.35"><text transform="translate(84.8 20.7) scale(1 1.1)" font-size="25.2" text-anchor="end" >5.0</text><text transform="translate(84.8 53.9) scale(1 1.1)" font-size="25.2" text-anchor="end" >4.0</text><text transform="translate(84.8 87.2) scale(1 1.1)" font-size="25.2" text-anchor="end" >3.0</text><text transform="translate(84.8 120.4) scale(1 1.1)" font-size="25.2" text-anchor="end" >2.0</text><text transform="translate(84.8 153.7) scale(1 1.1)" font-size="25.2" text-anchor="end" >1.0</text><text transform="translate(84.8 186.9) scale(1 1.1)" font-size="25.2" text-anchor="end" >0.0</text><text transform="translate(84.8 220.2) scale(1 1.1)" font-size="25.2" text-anchor="end" >0.4</text><text transform="translate(84.8 253.5) scale(1 1.1)" font-size="25.2" text-anchor="end" >0.3</text><text transform="translate(84.8 286.8) scale(1 1.1)" font-size="25.2" text-anchor="end" >0.2</text><text transform="translate(84.8 320.1) scale(1 1.1)" font-size="25.2" text-anchor="end" >0.1</text><text transform="translate(84.8 353.4) scale(1 1.1)" font-size="25.2" text-anchor="end" >0.0</text><text transform="translate(84.8 394.8) scale(1 1.1)" font-size="25.2" text-anchor="end" >0.3</text><text transform="translate(84.8 436.1) scale(1 1.1)" font-size="25.2" text-anchor="end" >0.2</text><text transform="translate(84.8 477.5) scale(1 1.1)" font-size="25.2" text-anchor="end" >0.1</text><text transform="translate(84.8 518.9) scale(1 1.1)" font-size="25.2" text-anchor="end" >0.0</text><text transform="translate(176.1 541.1) scale(1 1.07)" font-size="25.4" text-anchor="middle" >0.5</text><text transform="translate(257.4 541.1) scale(1 1.07)" font-size="25.4" text-anchor="middle" >1.0</text><text transform="translate(338.6 541.1) scale(1 1.07)" font-size="25.4" text-anchor="middle" >1.5</text><text transform="translate(419.9 541.1) scale(1 1.07)" font-size="25.4" text-anchor="middle" >2.0</text><text transform="translate(501.2 541.1) scale(1 1.07)" font-size="25.4" text-anchor="middle" >2.5</text><text transform="translate(297.3 576.6) scale(1 1.14)" font-size="24.2" text-anchor="middle" >Motor Displacement (mm)</text><text transform="translate(23.3 253.3) rotate(-90) scale(1 1.13)" font-size="24" text-anchor="middle">Force (N)</text><text transform="translate(101.0 35.8) scale(1.03 1)" font-size="22.3">Glass Slide</text><text transform="translate(101.0 58.2) scale(1.035 1)" font-size="17.2">EI = 0.56</text><text transform="translate(177.1 57.9) scale(1.085 1)" font-size="17.2">Nm</text><text x="207.0" y="51.8" font-size="11.3">2</text><text x="97.4" y="204.2" font-size="23.0">Coverslip</text><text transform="translate(97.2 224.3) scale(1.035 1)" font-size="17.6">EI=1.2x10</text><text x="179.9" y="216.7" font-size="11.2">-3</text><text transform="translate(194.9 224.3) scale(1.05 1)" font-size="17.6">Nm</text><text x="224.2" y="217.5" font-size="10.8">2</text><text transform="translate(99.3 374.2) scale(0.965 1)" font-size="23.5">Aluminum Shim</text><text x="97.8" y="395.2" font-size="17.6">EI = 2.9 x 10</text><text x="199.5" y="386.6" font-size="10.8">-4</text><text transform="translate(213.5 394.8) scale(1.06 1)" font-size="16.8">Nm</text><text x="243.4" y="388.2" font-size="11.5">2</text><text x="496" y="167.7" font-size="18.3" text-anchor="end">(A)</text><text x="496" y="336.8" font-size="18.3" text-anchor="end">(B)</text><text x="496.5" y="499.2" font-size="18.3" text-anchor="end">(C)</text></g>
<g id="legend"><path d="M387 33.9H411" stroke="#6a93ea" stroke-width="2.2"/><g fill="none" stroke="#6690ec" stroke-width="1.3"><path d="M393.1 30.6H404.9L399.0 40.6Z"/></g><text transform="translate(416.3 39.6) scale(1 1.07)" font-size="20" font-family="Liberation Sans, Arial, sans-serif" fill="#111" stroke="#111" stroke-width="0.35">1000 cSt</text><path d="M387 57.9H411" stroke="#1414c8" stroke-width="2.2"/><g fill="none" stroke="#2d50e2" stroke-width="1.3"><rect x="394.8" y="53.7" width="8.4" height="8.4"/></g><text transform="translate(416.3 63.8) scale(1 1.07)" font-size="20" font-family="Liberation Sans, Arial, sans-serif" fill="#111" stroke="#111" stroke-width="0.35">200 cSt</text><path d="M387 82.5H411" stroke="#141480" stroke-width="2.2"/><g fill="none" stroke="#262680" stroke-width="1.3"><circle cx="399.0" cy="82.5" r="4.6"/></g><text transform="translate(416.3 88.1) scale(1 1.07)" font-size="20" font-family="Liberation Sans, Arial, sans-serif" fill="#111" stroke="#111" stroke-width="0.35">50 cSt</text><path d="M387 203.5H411" stroke="#3ee2e2" stroke-width="2.8"/><g fill="none" stroke="#3ee2e2" stroke-width="1.3"><path d="M393.1 200.2H404.9L399.0 210.2Z"/></g><text transform="translate(416.3 209.9) scale(1 1.07)" font-size="20" font-family="Liberation Sans, Arial, sans-serif" fill="#111" stroke="#111" stroke-width="0.35">1000 cSt</text><path d="M387 227.7H411" stroke="#2ccccc" stroke-width="2.8"/><g fill="none" stroke="#2ccccc" stroke-width="1.3"><rect x="394.8" y="223.5" width="8.4" height="8.4"/></g><text transform="translate(416.3 234.6) scale(1 1.07)" font-size="20" font-family="Liberation Sans, Arial, sans-serif" fill="#111" stroke="#111" stroke-width="0.35">200 cSt</text><path d="M387 253.1H411" stroke="#0b7e7e" stroke-width="2.8"/><g fill="none" stroke="#2a7a7a" stroke-width="1.3"><circle cx="399.0" cy="253.1" r="4.6"/></g><text transform="translate(416.3 258.6) scale(1 1.07)" font-size="20" font-family="Liberation Sans, Arial, sans-serif" fill="#111" stroke="#111" stroke-width="0.35">50 cSt</text><path d="M392 364.3H416" stroke="#f38686" stroke-width="2.6"/><g fill="none" stroke="#f48c8c" stroke-width="1.3"><path d="M398.1 361.0H409.9L404.0 371.0Z"/></g><text transform="translate(416.8 371.2) scale(1 1.07)" font-size="20" font-family="Liberation Sans, Arial, sans-serif" fill="#111" stroke="#111" stroke-width="0.35">1000 cSt</text><path d="M392 389.2H416" stroke="#e8141c" stroke-width="2.6"/><g fill="none" stroke="#e8181e" stroke-width="1.3"><rect x="399.8" y="385.0" width="8.4" height="8.4"/></g><text transform="translate(416.8 395.4) scale(1 1.07)" font-size="20" font-family="Liberation Sans, Arial, sans-serif" fill="#111" stroke="#111" stroke-width="0.35">200 cSt</text><path d="M392 412.8H416" stroke="#a50f16" stroke-width="2.6"/><g fill="none" stroke="#a0121a" stroke-width="1.3"><circle cx="404.0" cy="412.8" r="4.6"/></g><text transform="translate(416.8 419.2) scale(1 1.07)" font-size="20" font-family="Liberation Sans, Arial, sans-serif" fill="#111" stroke="#111" stroke-width="0.35">50 cSt</text></g>
</svg>
</body></html>
